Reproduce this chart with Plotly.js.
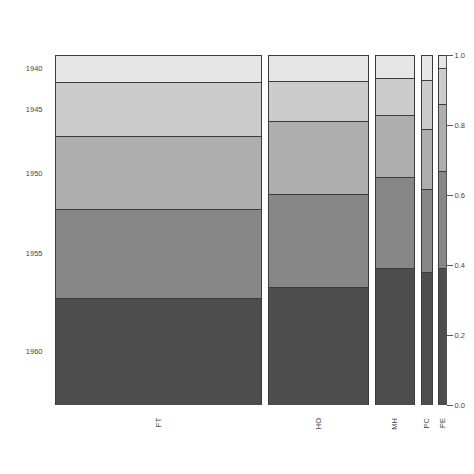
<!DOCTYPE html>
<html>
<head>
<meta charset="utf-8">
<script src="https://cdn.plot.ly/plotly-3.0.1.min.js"></script>
<style>
  html, body { margin: 0; padding: 0; background: #fff; }
  #chart { width: 474px; height: 474px; }
</style>
</head>
<body>
<div id="chart"></div>
<script>
// Spineplot: share of each year within each group, column width = group share
const groups = ['FT', 'HO', 'MH', 'PC', 'PE'];
const groupShare = [0.568, 0.274, 0.108, 0.030, 0.020];
const years = ['1960', '1955', '1950', '1945', '1940'];
const yearShare = {
  '1960': [0.305, 0.335, 0.389, 0.379, 0.389],
  '1955': [0.254, 0.266, 0.260, 0.238, 0.278],
  '1950': [0.207, 0.210, 0.178, 0.171, 0.192],
  '1945': [0.155, 0.112, 0.106, 0.139, 0.103],
  '1940': [0.079, 0.077, 0.067, 0.073, 0.038]
};
const fills = ['#4D4D4D', '#878787', '#AEAEAE', '#CCCCCC', '#E6E6E6'];
const gap = 0.0183;

// column centers along x
const centers = [];
let pos = 0;
groupShare.forEach((w, i) => {
  centers.push(pos + w / 2);
  pos += w + gap;
});
const xMax = pos - gap;

const traces = years.map((yr, k) => ({
  type: 'bar',
  name: yr,
  x: centers,
  y: yearShare[yr],
  width: groupShare,
  marker: { color: fills[k], line: { color: '#3c3c3c', width: 1 } },
  hoverinfo: 'skip'
}));

// left labels sit at the middle of each year band in the first column
const leftVals = [];
let acc = 0;
years.forEach(yr => {
  const v = yearShare[yr][0];
  leftVals.push(acc + v / 2);
  acc += v;
});
traces.push({
  type: 'scatter', mode: 'markers', x: [centers[0]], y: [0.5],
  yaxis: 'y2', marker: { opacity: 0 }, showlegend: false, hoverinfo: 'skip'
});

const tickFont = { family: 'Liberation Sans, Arial, sans-serif', size: 7.5, color: '#444' };

const layout = {
  width: 474, height: 474,
  margin: { l: 55, r: 28, t: 55, b: 69 },
  paper_bgcolor: '#fff', plot_bgcolor: '#fff',
  barmode: 'stack',
  bargap: 0,
  showlegend: false,
  xaxis: {
    range: [0, xMax], showgrid: false, zeroline: false, showline: false,
    tickvals: centers, ticktext: groups, tickangle: -90,
    ticks: 'outside', ticklen: 9, tickcolor: 'rgba(0,0,0,0)',
    tickfont: tickFont
  },
  yaxis: {
    range: [0, 1], side: 'right', showgrid: false, zeroline: false,
    showline: true, linecolor: '#555', linewidth: 1,
    tickvals: [0, 0.2, 0.4, 0.6, 0.8, 1.0],
    ticktext: ['0.0', '0.2', '0.4', '0.6', '0.8', '1.0'],
    ticks: 'outside', ticklen: 6, tickcolor: '#555',
    tickfont: tickFont
  },
  yaxis2: {
    range: [0, 1], overlaying: 'y', side: 'left', showgrid: false,
    zeroline: false, showline: false,
    tickvals: leftVals, ticktext: years,
    ticks: 'outside', ticklen: 10, tickcolor: 'rgba(0,0,0,0)',
    tickfont: tickFont
  }
};

Plotly.newPlot('chart', traces, layout, { displayModeBar: false, staticPlot: true });
</script>
</body>
</html>
